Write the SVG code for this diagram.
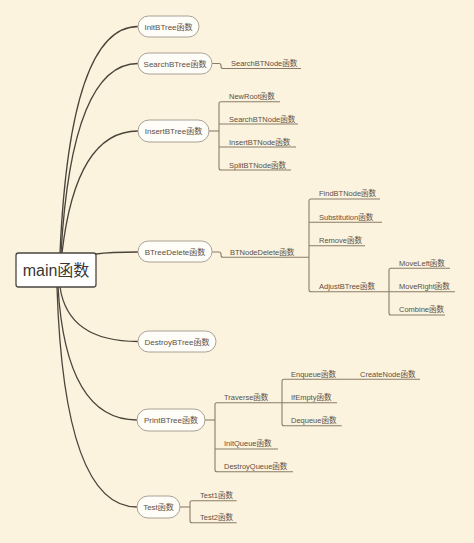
<svg xmlns="http://www.w3.org/2000/svg" width="474" height="543" viewBox="0 0 474 543">
<style>
.bg{fill:#fbf3dd}
.pill{fill:#fffdf7;stroke:#a9a296;stroke-width:1}
.main{fill:#ffffff;stroke:#4a4540;stroke-width:1.3}
.curve{fill:none;stroke:#4a443c;stroke-width:1.3}
.br{fill:none;stroke:#8a7c68;stroke-width:1.1;stroke-linejoin:round}
.t{font-family:"Liberation Sans","Noto Sans CJK SC",sans-serif;fill:#5b5048}
.pt{font-size:8px;text-anchor:middle}
.ct{font-size:7.5px}
.mt{font-size:16px;text-anchor:middle;fill:#3a3632}
</style>
<rect class="bg" x="0" y="0" width="474" height="543"/>
<g id="connectors">
<path class="curve" d="M60 253 Q70 26.5 138 26.5"/>
<path class="curve" d="M61 253 Q72 63.5 138 63.5"/>
<path class="curve" d="M62 253 Q76 131 138 131"/>
<path class="curve" d="M96 254 Q110 252 138 252"/>
<path class="curve" d="M60 287 Q68 341.5 138 341.5"/>
<path class="curve" d="M58 287 Q66 420 137 420"/>
<path class="curve" d="M57 287 Q64 507 137 507"/>
<!-- SearchBTree -->
<path class="br" d="M212 63.5 H219 Q221 63.5 221 65.5 V66.5 Q221 68.5 223 68.5 H301"/>
<!-- InsertBTree -->
<path class="br" d="M209 131 H219"/>
<path class="br" d="M280 101.7 H221 Q219 101.7 219 103.7 V168 Q219 170 221 170 H291"/>
<path class="br" d="M219 124 H298"/>
<path class="br" d="M219 147 H296"/>
<!-- BTreeDelete -->
<path class="br" d="M212 252 H219 Q221 252 221 254 V255.3 Q221 257.3 223 257.3 H309"/>
<path class="br" d="M380 199 H311 Q309 199 309 201 V289.7 Q309 291.7 311 291.7 H455"/>
<path class="br" d="M309 222.3 H382"/>
<path class="br" d="M309 245.7 H365"/>
<path class="br" d="M450 268.3 H391 Q389 268.3 389 270.3 V313 Q389 315 391 315 H445"/>
<!-- PrintBTree -->
<path class="br" d="M205 420 H215"/>
<path class="br" d="M337 402.7 H217 Q215 402.7 215 404.7 V469.7 Q215 471.7 217 471.7 H293"/>
<path class="br" d="M215 449 H278"/>
<path class="br" d="M420 379.3 H284 Q282 379.3 282 381.3 V423.7 Q282 425.7 284 425.7 H341.7"/>
<!-- Test -->
<path class="br" d="M180 507 H190"/>
<path class="br" d="M236.7 500.7 H192 Q190 500.7 190 502.7 V520.7 Q190 522.7 192 522.7 H236.7"/>
</g>
<g id="main">
<rect class="main" x="16" y="253" width="80" height="34" rx="2.5"/>
<text class="t mt" x="56" y="276">main函数</text>
</g>
<g id="InitBTree">
<rect class="pill" x="138" y="16" width="61" height="21" rx="10.5"/>
<text class="t pt" x="168.5" y="29.5">InitBTree函数</text>
</g>
<g id="SearchBTree">
<rect class="pill" x="138" y="53" width="74" height="21" rx="10.5"/>
<text class="t pt" x="175" y="66.5">SearchBTree函数</text>
</g>
<g id="InsertBTree">
<rect class="pill" x="138" y="120" width="71" height="22" rx="11"/>
<text class="t pt" x="173.5" y="134">InsertBTree函数</text>
</g>
<g id="BTreeDelete">
<rect class="pill" x="138" y="241" width="74" height="21" rx="10.5"/>
<text class="t pt" x="175" y="255">BTreeDelete函数</text>
</g>
<g id="DestroyBTree">
<rect class="pill" x="138" y="331" width="78" height="21" rx="10.5"/>
<text class="t pt" x="177" y="344.5">DestroyBTree函数</text>
</g>
<g id="PrintBTree">
<rect class="pill" x="137" y="409" width="68" height="22" rx="11"/>
<text class="t pt" x="171" y="423">PrintBTree函数</text>
</g>
<g id="Test">
<rect class="pill" x="137" y="496" width="43" height="22" rx="11"/>
<text class="t pt" x="158.5" y="510">Test函数</text>
</g>
<g id="SearchBTNode1"><text class="t ct" x="231" y="66">SearchBTNode函数</text></g>
<g id="NewRoot"><text class="t ct" x="229" y="99">NewRoot函数</text></g>
<g id="SearchBTNode2"><text class="t ct" x="229" y="121.5">SearchBTNode函数</text></g>
<g id="InsertBTNode"><text class="t ct" x="229" y="144.5">InsertBTNode函数</text></g>
<g id="SplitBTNode"><text class="t ct" x="229" y="167.5">SplitBTNode函数</text></g>
<g id="BTNodeDelete"><text class="t ct" x="230" y="254.5">BTNodeDelete函数</text></g>
<g id="FindBTNode"><text class="t ct" x="319" y="196.3">FindBTNode函数</text></g>
<g id="Substitution"><text class="t ct" x="319" y="219.6">Substitution函数</text></g>
<g id="Remove"><text class="t ct" x="319" y="243">Remove函数</text></g>
<g id="AdjustBTree"><text class="t ct" x="319" y="289">AdjustBTree函数</text></g>
<g id="MoveLeft"><text class="t ct" x="399" y="265.6">MoveLeft函数</text></g>
<g id="MoveRight"><text class="t ct" x="399" y="289">MoveRight函数</text></g>
<g id="Combine"><text class="t ct" x="399" y="312.3">Combine函数</text></g>
<g id="Traverse"><text class="t ct" x="224" y="400">Traverse函数</text></g>
<g id="InitQueue"><text class="t ct" x="224" y="446.3">InitQueue函数</text></g>
<g id="DestroyQueue"><text class="t ct" x="224" y="469">DestroyQueue函数</text></g>
<g id="Enqueue"><text class="t ct" x="291" y="376.6">Enqueue函数</text></g>
<g id="CreateNode"><text class="t ct" x="360" y="376.6">CreateNode函数</text></g>
<g id="IfEmpty"><text class="t ct" x="291" y="400">IfEmpty函数</text></g>
<g id="Dequeue"><text class="t ct" x="291" y="423">Dequeue函数</text></g>
<g id="Test1"><text class="t ct" x="200" y="498">Test1函数</text></g>
<g id="Test2"><text class="t ct" x="200" y="520">Test2函数</text></g>
</svg>
